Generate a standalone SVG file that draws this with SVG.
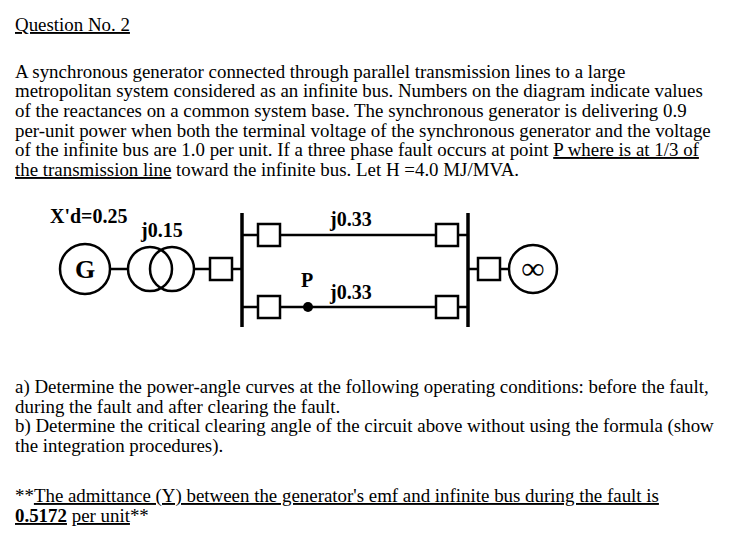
<svg xmlns="http://www.w3.org/2000/svg" width="741" height="556" viewBox="0 0 741 556">
<style>
text{font-family:"Liberation Serif","Times New Roman",serif;font-size:18.9px;fill:#000}
.b{font-weight:bold;font-size:20px}
.u{text-decoration:underline}
.s{fill:none;stroke:#000;stroke-width:2.5}
.bx{fill:#fff;stroke:#000;stroke-width:2.5}
.bus{stroke:#000;stroke-width:3.5}
</style>
<rect width="741" height="556" fill="#fff"/>
<g id="text">
<text x="15" y="31" class="u">Question No. 2</text>
<text x="15" y="78">A synchronous generator connected through parallel transmission lines to a large</text>
<text x="15" y="97">metropolitan system considered as an infinite bus. Numbers on the diagram indicate values</text>
<text x="15" y="117">of the reactances on a common system base. The synchronous generator is delivering 0.9</text>
<text x="15" y="137">per-unit power when both the terminal voltage of the synchronous generator and the voltage</text>
<text x="15" y="156">of the infinite bus are 1.0 per unit. If a three phase fault occurs at point <tspan class="u">P where is at 1/3 of </tspan></text>
<text x="15" y="176"><tspan class="u">the transmission line</tspan> toward the infinite bus. Let H =4.0 MJ/MVA.</text>
<text x="15" y="393">a) Determine the power-angle curves at the following operating conditions: before the fault,</text>
<text x="15" y="413">during the fault and after clearing the fault.</text>
<text x="15" y="432">b) Determine the critical clearing angle of the circuit above without using the formula (show</text>
<text x="15" y="452">the integration procedures).</text>
<text x="15" y="502">**<tspan class="u">The admittance (Y) between the generator's emf and infinite bus during the fault is </tspan></text>
<text x="15" y="522"><tspan class="u" font-weight="bold">0.5172</tspan> <tspan class="u">per unit</tspan>**</text>
</g>
<g id="connectors">
<line class="s" x1="110" y1="269" x2="128" y2="269"/>
<line class="s" x1="193" y1="269" x2="242" y2="269"/>
<line class="s" x1="242" y1="235" x2="468" y2="235"/>
<line class="s" x1="242" y1="307" x2="468" y2="307"/>
<line class="s" x1="468" y1="269" x2="510" y2="269"/>
</g>
<g id="generator"><circle class="s" cx="85" cy="269" r="25" fill="#fff"/><text x="85" y="278" class="b" text-anchor="middle" style="font-size:26px">G</text><text x="50" y="223" class="b">X'd=0.25</text></g>
<g id="transformer"><circle class="s" cx="150" cy="269" r="22"/><circle class="s" cx="172" cy="269" r="22"/><text x="141" y="237" class="b">j0.15</text></g>
<g id="cb1"><rect class="bx" x="210" y="258" width="22" height="22"/></g>
<g id="bus1"><line class="bus" x1="242" y1="213" x2="242" y2="327"/></g>
<g id="cb2"><rect class="bx" x="258" y="224" width="22" height="22"/></g>
<g id="cb3"><rect class="bx" x="436" y="224" width="22" height="22"/></g>
<g id="cb4"><rect class="bx" x="258" y="296" width="22" height="22"/></g>
<g id="cb5"><rect class="bx" x="436" y="296" width="22" height="22"/></g>
<g id="line1"><text x="330" y="226" class="b">j0.33</text></g>
<g id="line2"><text x="330" y="299" class="b">j0.33</text></g>
<g id="faultP"><circle cx="308" cy="307" r="5" fill="#000"/><text x="301" y="287" class="b">P</text></g>
<g id="bus2"><line class="bus" x1="468" y1="213" x2="468" y2="327"/></g>
<g id="cb6"><rect class="bx" x="478" y="258" width="22" height="22"/></g>
<g id="infbus"><circle class="s" cx="533" cy="269" r="24" fill="#fff"/><text x="533" y="279" class="b" text-anchor="middle" style="font-size:32px">∞</text></g>
</svg>
